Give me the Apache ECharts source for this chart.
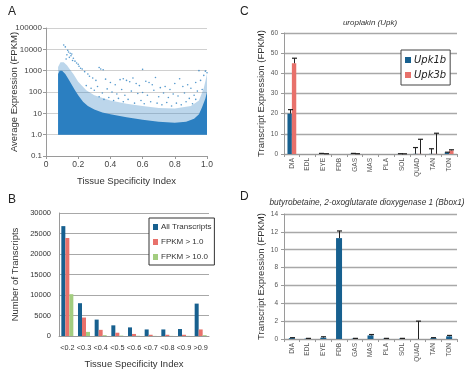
<!DOCTYPE html>
<html><head><meta charset="utf-8">
<script src="https://cdn.jsdelivr.net/npm/echarts@6/dist/echarts.min.js"></script>
<style>html,body{margin:0;padding:0;background:#fff}#c{width:474px;height:380px}</style>
</head><body><div id="c"></div>
<script>
// ---------- Panel A data ----------
const coreX = [0.075, 0.085, 0.1, 0.12, 0.14, 0.16, 0.18, 0.2, 0.23, 0.26, 0.3, 0.35, 0.4, 0.5, 0.6, 0.7, 0.8, 0.87, 0.92, 0.95, 0.97, 0.99, 1.0];
const coreY = [700, 1000, 1000, 700, 400, 220, 120, 70, 35, 22, 15, 11, 9, 6.5, 5, 4, 3.6, 4, 5.5, 9, 20, 50, 100];
const haloX = [0.075, 0.09, 0.11, 0.13, 0.15, 0.17, 0.2, 0.25, 0.3, 0.4, 0.5, 0.6, 0.7, 0.8, 0.9, 0.95, 0.98, 1.0];
const haloY = [1500, 2500, 2500, 1800, 1100, 700, 300, 120, 70, 40, 28, 22, 18, 17, 22, 40, 150, 700];
const outliers = [[0.11,16000],[0.12,13000],[0.135,9000],[0.14,7500],[0.15,6500],[0.13,5500],[0.155,5000],[0.16,6000],[0.145,4200],[0.17,3800],[0.125,3500],[0.165,3000],[0.18,2800],[0.19,2300],[0.2,2000],[0.205,1600],[0.215,1300],[0.225,1200],[0.24,900],[0.26,700],[0.33,1400],[0.34,1200],[0.355,1100],[0.6,1150],[0.95,1000],[0.99,950],[0.27,550],[0.29,450],[0.31,350],[0.37,400],[0.4,280],[0.43,220],[0.46,380],[0.48,420],[0.5,350],[0.52,300],[0.54,450],[0.56,250],[0.58,200],[0.62,320],[0.64,280],[0.66,220],[0.68,480],[0.71,160],[0.74,180],[0.77,130],[0.8,250],[0.83,420],[0.85,180],[0.88,220],[0.9,150],[0.93,280],[0.96,350],[0.98,600],[1.0,800],
[0.25,200],[0.28,150],[0.3,120],[0.32,180],[0.35,90],[0.38,140],[0.41,100],[0.44,80],[0.47,130],[0.49,70],[0.53,110],[0.57,85],[0.6,95],[0.63,70],[0.67,120],[0.7,60],[0.73,90],[0.76,55],[0.79,80],[0.82,65],[0.86,90],[0.89,50],[0.92,70],[0.94,110],[0.97,130],
[0.33,60],[0.36,45],[0.39,55],[0.42,40],[0.45,50],[0.48,35],[0.51,45],[0.55,30],[0.59,40],[0.61,28],[0.65,35],[0.69,30],[0.72,25],[0.75,32],[0.78,22],[0.81,30],[0.84,25],[0.87,35],[0.91,28],[0.93,45]];

// ---------- Panel B data ----------
const bCats = ['<0.2','<0.3','<0.4','<0.5','<0.6','<0.7','<0.8','<0.9','>0.9'];
const bAll = [26800, 8000, 4000, 2600, 2100, 1600, 1600, 1700, 7900];
const bF1 = [23900, 4500, 1500, 800, 500, 300, 300, 300, 1600];
const bF10 = [10200, 1000, 200, 100, 50, 30, 30, 30, 200];

// ---------- Panel C / D data ----------
const tissues = ['DIA','EDL','EYE','FDB','GAS','MAS','PLA','SOL','QUAD','TAN','TON'];
const upk1b = [20, 0, 0.2, 0, 0.2, 0, 0, 0.1, 0.1, 0.1, 0.8];
const upk1bErr = [22, 0, 0.3, 0, 0.3, 0, 0, 0.15, 3.2, 2.6, 0.9];
const upk3b = [45, 0, 0.1, 0, 0.1, 0, 0, 0.05, 0.1, 0.1, 1.8];
const upk3bErr = [47.5, 0, 0.15, 0, 0.15, 0, 0, 0.1, 7.3, 10.3, 2.1];
const bbox1 = [0.1, 0.05, 0.15, 11.3, 0.05, 0.4, 0.05, 0.05, 0, 0.1, 0.3];
const bbox1Err = [0.15, 0.07, 0.25, 12.1, 0.07, 0.5, 0.07, 0.07, 2.0, 0.15, 0.4];

const BLUE = '#17608f', RED = '#e8716b', GREEN = '#a3cd7f', SBLUE = '#2b7fc1';
const FONT = 'Liberation Sans, Arial, sans-serif';

function errSeries(name, xi, yi, vals, tops, offset) {
  return {
    type: 'custom', name: name, xAxisIndex: xi, yAxisIndex: yi, z: 5,
    encode: { x: 0, y: 2 },
    data: tops.map((t, i) => [i, vals[i], t]),
    renderItem: function (params, api) {
      const i = api.value(0), v = api.value(1), t = api.value(2);
      if (!(t > v)) return { type: 'group', children: [] };
      const b = api.coord([i, v]), p = api.coord([i, t]);
      const x = Math.round(b[0] + offset) + 0.5;
      return { type: 'group', children: [
        { type: 'line', shape: { x1: x, y1: b[1], x2: x, y2: p[1] }, style: { stroke: '#222', lineWidth: 1 } },
        { type: 'line', shape: { x1: x - 2.5, y1: p[1], x2: x + 2.5, y2: p[1] }, style: { stroke: '#222', lineWidth: 1.2 } }
      ]};
    }
  };
}

const chart = echarts.init(document.getElementById('c'), null, { renderer: 'canvas' });
const axGray = '#9a9a9a';
const option = {
  animation: false,
  textStyle: { fontFamily: FONT },
  grid: [
    { left: 46, top: 28, width: 161, height: 128 },
    { left: 59, top: 213, width: 150, height: 123 },
    { left: 284, top: 33, width: 173, height: 121 },
    { left: 284, top: 214, width: 173, height: 125 }
  ],
  xAxis: [
    { gridIndex: 0, type: 'value', min: 0, max: 1, interval: 0.2,
      name: 'Tissue Specificity Index', nameLocation: 'middle', nameGap: 20, nameMoveOverlap: false,
      nameTextStyle: { fontSize: 9.5, color: '#333' },
      axisLine: { lineStyle: { color: axGray } }, axisTick: { show: true, length: 3, lineStyle: { color: axGray } },
      splitLine: { show: false },
      axisLabel: { fontSize: 8.5, color: '#444', margin: 4, formatter: v => v === 0 ? '0' : v.toFixed(1) } },
    { gridIndex: 1, type: 'category', data: bCats,
      name: 'Tissue Specificity Index', nameLocation: 'middle', nameGap: 23, nameMoveOverlap: false,
      nameTextStyle: { fontSize: 9.5, color: '#333' },
      axisLine: { lineStyle: { color: axGray } }, axisTick: { show: false },
      axisLabel: { fontSize: 7.3, color: '#333', margin: 8, interval: 0 } },
    { gridIndex: 2, type: 'category', data: tissues,
      axisLine: { lineStyle: { color: axGray } }, axisTick: { show: true, length: 3, lineStyle: { color: axGray } },
      axisLabel: { fontSize: 6.5, color: '#555', rotate: 90, margin: 4, interval: 0 } },
    { gridIndex: 3, type: 'category', data: tissues,
      axisLine: { lineStyle: { color: axGray } }, axisTick: { show: true, length: 3, lineStyle: { color: axGray } },
      axisLabel: { fontSize: 6.5, color: '#555', rotate: 90, margin: 4, interval: 0 } }
  ],
  yAxis: [
    { gridIndex: 0, type: 'log', min: 0.1, max: 100000, logBase: 10,
      name: 'Average Expression (FPKM)', nameLocation: 'middle', nameGap: 27, nameMoveOverlap: false,
      nameTextStyle: { fontSize: 9.5, color: '#333' },
      axisLine: { show: true, lineStyle: { color: axGray } }, axisTick: { show: true, length: 3, lineStyle: { color: axGray } },
      splitLine: { lineStyle: { color: '#d0d0d0', width: 1 } },
      axisLabel: { fontSize: 8, color: '#444', margin: 4, formatter: v => v < 0.5 ? '0.1' : (v < 5 ? '1.0' : String(Math.round(v))) } },
    { gridIndex: 1, type: 'value', min: 0, max: 30000, interval: 5000,
      name: 'Number of Transcripts', nameLocation: 'middle', nameGap: 39, nameMoveOverlap: false,
      nameTextStyle: { fontSize: 9.5, color: '#333' },
      axisLine: { show: true, lineStyle: { color: axGray } }, axisTick: { show: false },
      splitLine: { lineStyle: { color: '#a8a8a8', width: 1.2 } },
      axisLabel: { fontSize: 7.5, color: '#333', margin: 8, formatter: v => String(v) } },
    { gridIndex: 2, type: 'value', min: 0, max: 60, interval: 10,
      name: 'Transcript Expression (FPKM)', nameLocation: 'middle', nameGap: 18, nameMoveOverlap: false,
      nameTextStyle: { fontSize: 9.5, color: '#333' },
      axisLine: { show: true, lineStyle: { color: axGray } }, axisTick: { show: true, length: 3, lineStyle: { color: axGray } },
      splitLine: { lineStyle: { color: '#a8a8a8', width: 1.3 } },
      axisLabel: { fontSize: 6.5, color: '#555', margin: 6 } },
    { gridIndex: 3, type: 'value', min: 0, max: 14, interval: 2,
      name: 'Transcript Expression (FPKM)', nameLocation: 'middle', nameGap: 18, nameMoveOverlap: false,
      nameTextStyle: { fontSize: 9.5, color: '#333' },
      axisLine: { show: true, lineStyle: { color: axGray } }, axisTick: { show: true, length: 3, lineStyle: { color: axGray } },
      splitLine: { lineStyle: { color: '#a8a8a8', width: 1.3 } },
      axisLabel: { fontSize: 6.5, color: '#555', margin: 6 } }
  ],
  legend: [
    { data: ['All Transcripts', 'FPKM > 1.0', 'FPKM > 10.0'], orient: 'vertical', left: 149, top: 218,
      icon: 'rect', itemWidth: 5, itemHeight: 6, itemGap: 7, padding: [5, 3, 4, 4],
      borderColor: '#333', borderWidth: 1, backgroundColor: '#fff',
      textStyle: { fontSize: 8, color: '#333', padding: [0, 0, 0, -2] } },
    { data: ['Upk1b', 'Upk3b'], orient: 'vertical', left: 401, top: 50,
      icon: 'rect', itemWidth: 6, itemHeight: 6, itemGap: 5, padding: [5, 4, 5, 4],
      borderColor: '#444', borderWidth: 1, backgroundColor: '#fff',
      textStyle: { fontSize: 10, fontStyle: 'italic', color: '#222', fontFamily: 'DejaVu Sans', padding: [0, 0, 0, -2] } }
  ],
  graphic: [
    { type: 'text', x: 8, y: 6, style: { text: 'A', font: '12px ' + FONT, fill: '#222' } },
    { type: 'text', x: 8, y: 194, style: { text: 'B', font: '12px ' + FONT, fill: '#222' } },
    { type: 'text', x: 240, y: 6, style: { text: 'C', font: '12px ' + FONT, fill: '#222' } },
    { type: 'text', x: 240, y: 191, style: { text: 'D', font: '12px ' + FONT, fill: '#222' } },
    { type: 'text', x: 370, y: 23, style: { text: 'uroplakin (Upk)', font: 'italic 8px ' + FONT, fill: '#333', align: 'center', verticalAlign: 'middle' } },
    { type: 'text', x: 367, y: 203, style: { text: 'butyrobetaine, 2-oxoglutarate dioxygenase 1 (Bbox1)', font: 'italic 8.3px ' + FONT, fill: '#333', align: 'center', verticalAlign: 'middle' } }
  ],
  series: [
    { type: 'line', xAxisIndex: 0, yAxisIndex: 0, data: haloX.map((x, i) => [x, haloY[i]]),
      showSymbol: false, symbol: 'none', lineStyle: { width: 0 }, silent: true,
      areaStyle: { color: 'rgba(43,127,193,0.45)', origin: 1 }, z: 2 },
    { type: 'line', xAxisIndex: 0, yAxisIndex: 0, data: coreX.map((x, i) => [x, coreY[i]]),
      showSymbol: false, symbol: 'none', lineStyle: { width: 0 }, silent: true,
      areaStyle: { color: SBLUE, opacity: 1, origin: 1 }, z: 3 },
    { type: 'scatter', xAxisIndex: 0, yAxisIndex: 0, data: outliers, symbolSize: 1.6,
      itemStyle: { color: SBLUE }, z: 4 },

    { name: 'All Transcripts', type: 'bar', xAxisIndex: 1, yAxisIndex: 1, data: bAll, barWidth: 4, barGap: '0%', itemStyle: { color: BLUE } },
    { name: 'FPKM > 1.0', type: 'bar', xAxisIndex: 1, yAxisIndex: 1, data: bF1, barWidth: 4, barGap: '0%', itemStyle: { color: RED } },
    { name: 'FPKM > 10.0', type: 'bar', xAxisIndex: 1, yAxisIndex: 1, data: bF10, barWidth: 4, barGap: '0%', itemStyle: { color: GREEN } },

    { name: 'Upk1b', type: 'bar', xAxisIndex: 2, yAxisIndex: 2, data: upk1b, barWidth: 4.4, barGap: '0%', itemStyle: { color: BLUE } },
    { name: 'Upk3b', type: 'bar', xAxisIndex: 2, yAxisIndex: 2, data: upk3b, barWidth: 4.4, barGap: '0%', itemStyle: { color: RED } },
    errSeries('e1', 2, 2, upk1b, upk1bErr, -2.2),
    errSeries('e2', 2, 2, upk3b, upk3bErr, 2.2),

    { name: 'Bbox1', type: 'bar', xAxisIndex: 3, yAxisIndex: 3, data: bbox1, barWidth: 6, itemStyle: { color: BLUE } },
    errSeries('e3', 3, 3, bbox1, bbox1Err, 0)
  ]
};
chart.setOption(option);
</script></body></html>
